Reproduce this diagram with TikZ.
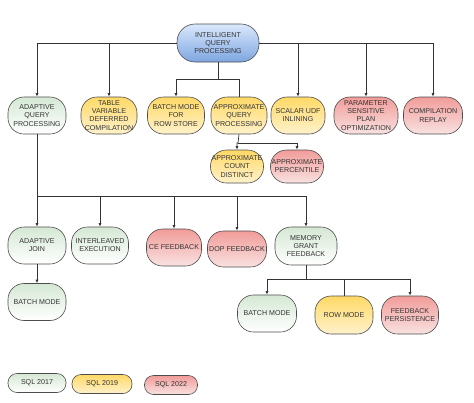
\documentclass[tikz,border=0pt]{standalone}
\usepackage{fontspec}
\setmainfont{Liberation Sans}
\usetikzlibrary{arrows.meta}

\definecolor{gtop}{HTML}{D5E8D4}
\definecolor{ytop}{HTML}{FFD966}
\definecolor{ybot}{HTML}{FFF2CC}
\definecolor{rtop}{HTML}{F19C99}
\definecolor{rbot}{HTML}{F8E2E1}
\definecolor{btop}{HTML}{DAE8FC}
\definecolor{bbot}{HTML}{7EA6E0}
\definecolor{edge}{HTML}{4D4D4D}

\tikzset{
  box/.style={draw=edge, line width=0.6pt, rounded corners=16pt, align=center,
    inner sep=1pt, minimum width=58pt, minimum height=37pt, text=black!80,
    font=\fontsize{7.1}{8.1}\selectfont},
  sql17/.style={box, top color=gtop, bottom color=white},
  sql19/.style={box, top color=ytop, bottom color=ybot},
  sql22/.style={box, top color=rtop, bottom color=rbot},
  root/.style={box, top color=btop, bottom color=bbot},
  key/.style={rounded corners=9pt, minimum height=19pt},
  link/.style={draw=black!80, line width=0.7pt},
  arr/.style={link, -{Latex[length=3.5pt,width=3pt]}}
}

\begin{document}
\begin{tikzpicture}[x=1pt,y=-1pt]
    \useasboundingbox (0,0) rectangle (474,402);
    % top
    \node[root, minimum width=82pt, minimum height=38pt, rounded corners=18pt] (iqp) at (218,43) {INTELLIGENT\\QUERY\\PROCESSING};
    % second row
    \node[sql17] (aqp) at (37,115.5) {ADAPTIVE\\QUERY\\PROCESSING};
    \node[sql19, minimum width=56pt] (tvdc) at (109,115.5) {TABLE\\VARIABLE\\DEFERRED\\COMPILATION};
    \node[sql19, minimum width=57pt] (bmrs) at (176,115.5) {BATCH MODE\\FOR\\ROW STORE};
    \node[sql19, minimum width=56pt] (apqp) at (239,115.5) {APPROXIMATE\\QUERY\\PROCESSING};
    \node[sql19, minimum width=54pt] (udf) at (298,115.5) {SCALAR UDF\\INLINING};
    \node[sql22, minimum width=64pt] (psp) at (366,115.5) {PARAMETER\\SENSITIVE\\PLAN\\OPTIMIZATION};
    \node[sql22, minimum width=59pt] (cr) at (433,115.5) {COMPILATION\\REPLAY};
    % approximate
    \node[sql19, minimum width=53pt, minimum height=33pt] (acd) at (237,166.5) {APPROXIMATE\\COUNT\\DISTINCT};
    \node[sql22, minimum width=53pt, minimum height=33pt] (ap) at (297,166.5) {APPROXIMATE\\PERCENTILE};
    % adaptive
    \node[sql17] (aj) at (37,245.5) {ADAPTIVE\\JOIN};
    \node[sql17, minimum width=57pt] (ie) at (100,245.5) {INTERLEAVED\\EXECUTION};
    \node[sql22, minimum width=55pt] (ce) at (174,247.5) {CE FEEDBACK};
    \node[sql22, minimum width=59pt, minimum height=36pt] (dop) at (237,249) {DOP FEEDBACK};
    \node[sql17, minimum width=62pt, minimum height=38pt] (mgf) at (306,246) {MEMORY\\GRANT\\FEEDBACK};
    % last row
    \node[sql17] (bm1) at (37,302) {BATCH MODE};
    \node[sql17, minimum width=59pt] (bm2) at (267,313.5) {BATCH MODE};
    \node[sql19, minimum width=58pt, minimum height=38pt] (rm) at (344,315) {ROW MODE};
    \node[sql22, minimum width=57pt, minimum height=38pt] (fp) at (410,315) {FEEDBACK\\PERSISTENCE};
    % legend
    \node[sql17, key] (k17) at (37,383) {SQL 2017};
    \node[sql19, key, minimum width=60pt] (k19) at (102,384) {SQL 2019};
    \node[sql22, key, minimum width=53pt] (k22) at (171,385) {SQL 2022};

    \coordinate (j1) at (218,79);
    \coordinate (j2) at (238,143);
    \coordinate (j3) at (37,196);
    \coordinate (j4) at (306,279);

    \draw[arr] (iqp.west) -| (aqp.north);
    \draw[arr] (iqp.west) -| (tvdc.north);
    \draw[arr] (iqp.east) -| (udf.north);
    \draw[arr] (iqp.east) -| (psp.north);
    \draw[arr] (iqp.east) -| (cr.north);
    \draw[arr] (iqp.south) -- (j1) -| (bmrs.north);
    \draw[link] (j1) -| (apqp.north);
    \draw[arr] (apqp.south) -- (j2) -| (acd.north);
    \draw[arr] (j2) -| (ap.north);
    \draw[arr] (aqp.south) -- (aj.north);
    \draw[arr] (j3) -| (ie.north);
    \draw[arr] (j3) -| (ce.north);
    \draw[arr] (j3) -| (dop.north);
    \draw[arr] (j3) -| (mgf.north);
    \draw[arr] (aj.south) -- (bm1.north);
    \draw[arr] (mgf.south) -- (j4) -| (bm2.north);
    \draw[link] (j4) -| (rm.north);
    \draw[arr] (j4) -| (fp.north);
\end{tikzpicture}
\end{document}
